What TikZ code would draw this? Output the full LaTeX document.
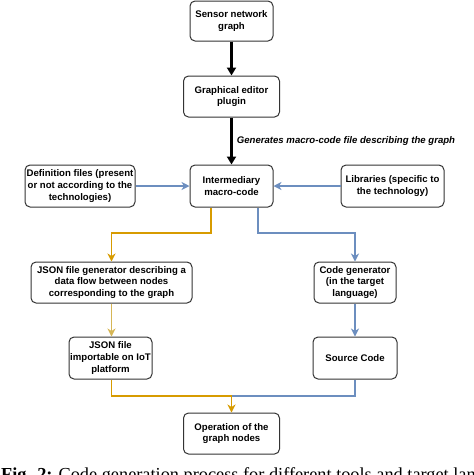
\documentclass[tikz,border=0pt]{standalone}
\usepackage{fontspec}
\setmainfont{Liberation Sans}
\newfontfamily\capfont{Liberation Serif}
\usetikzlibrary{arrows.meta,calc}
\definecolor{orng}{HTML}{D79B00}
\definecolor{lorng}{HTML}{D6B656}
\definecolor{blu}{HTML}{6C8EBF}
\begin{document}
\begin{tikzpicture}[x=1pt,y=-1pt,
  box/.style={draw=black!80, line width=1pt, rounded corners=5pt, align=center,
    inner sep=0pt, font=\fontsize{9.6}{11.7}\selectfont\bfseries},
  blk/.style={draw=black, line width=2.1pt, -{Triangle[length=8pt,width=9pt]}},
  carrow/.style={line width=1.8pt, -{Stealth[length=8pt,width=8pt,inset=2.5pt]}},
  cline/.style={line width=1.8pt}]
\useasboundingbox (0,0) rectangle (474,475);
\clip (0,0) rectangle (474,475);
\node[box, minimum width=83pt, minimum height=40pt] (sensor) at (231.5,21) {Sensor network\\graph};
\node[box, minimum width=96pt, minimum height=41pt] (editor) at (231.5,96.5) {Graphical editor\\plugin};
\node[box, minimum width=83pt, minimum height=42pt] (inter) at (231.5,186) {Intermediary\\macro-code};
\node[box, minimum width=110pt, minimum height=42pt] (defs) at (80,186) {Definition files (present\\or not according to the\\technologies)};
\node[box, minimum width=103pt, minimum height=42pt] (libs) at (392.5,186) {Libraries (specific to\\the technology)};
\node[box, minimum width=161pt, minimum height=41pt] (jsongen) at (111.5,282.5) {JSON file generator describing a\\data flow between nodes\\corresponding to the graph};
\node[box, minimum width=82pt, minimum height=41pt] (codegen) at (355,282.5) {Code generator\\(in the target\\language)};
\node[box, minimum width=83pt, minimum height=42pt] (jsonfile) at (110.5,358) {JSON file\\importable on IoT\\platform};
\node[box, minimum width=84pt, minimum height=42pt] (source) at (355,358) {Source Code};
\node[box, minimum width=96pt, minimum height=41pt] (oper) at (231.5,433.5) {Operation of the\\graph nodes};

\draw[blk] (sensor) -- (editor);
\draw[blk] (editor) -- node[right, xshift=1pt, font=\fontsize{9.6}{11.7}\selectfont\bfseries\itshape] (lbl) {Generates macro-code file describing the graph} (inter);
\draw[carrow, blu] (defs) -- (inter);
\draw[carrow, blu] (libs) -- (inter);

\coordinate (oA) at (211,233);
\coordinate (bA) at (258,233);
\draw[carrow, orng] (inter.south -| oA) -- (oA) -- (oA -| jsongen) -- (jsongen.north);
\draw[carrow, blu] (inter.south -| bA) -- (bA) -- (bA -| codegen) -- (codegen.north);
\draw[carrow, lorng] (jsongen) -- (jsonfile.north -| jsongen);
\draw[carrow, blu] (codegen) -- (source);

\coordinate (jn) at (231.5,396);
\draw[cline, blu] (source.south) -- (source.south |- jn) -- (jn);
\draw[carrow, orng] (jsonfile.south -| jsongen) -- (jn -| jsongen) -- (jn) -- (oper.north);

\node[anchor=base west, inner sep=0pt, font=\capfont\fontsize{18.3}{20}\selectfont] (cap) at (1,480) {\textbf{Fig. 2:} Code generation process for different tools and target lan};
\end{tikzpicture}
\end{document}
